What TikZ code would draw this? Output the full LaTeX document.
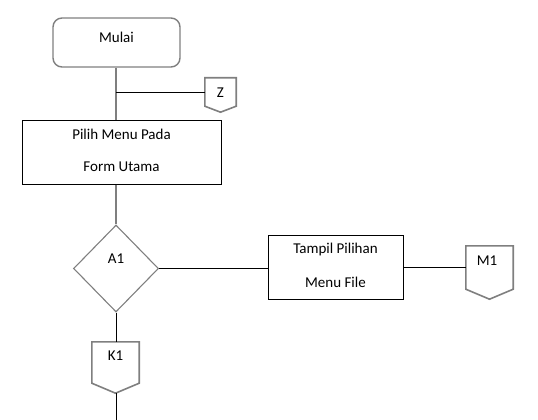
\documentclass[tikz,border=0pt]{standalone}
\usepackage{fontspec}
\setmainfont{Carlito}
\usetikzlibrary{shapes.geometric,calc}
\definecolor{bordergray}{HTML}{7F7F7F}
\begin{document}
\begin{tikzpicture}[x=1pt,y=-1pt,
  every node/.style={font=\fontsize{15}{18}\selectfont, text=black},
  procbox/.style={draw=black, line width=1pt, inner sep=0, rectangle},
  termbox/.style={draw=bordergray, line width=1.4pt, rounded corners=9pt, inner sep=0},
  decbox/.style={diamond, draw=bordergray, line width=1.1pt, inner sep=0},
  offbox/.style={draw=none, inner sep=0},
  offline/.style={draw=bordergray, line width=1.6pt},
  conn/.style={draw=black, line width=1pt},
  grayconn/.style={draw=bordergray, line width=1.4pt},
  lbl/.style={inner sep=0, anchor=center}]
\useasboundingbox (0,0) rectangle (538,420);
% nodes
\node[termbox, minimum width=127pt, minimum height=49pt] (mulai) at (116.5,42.5) {};
\node[lbl] (tmulai) at (116.5,37) {Mulai};
\node[procbox, minimum width=199pt, minimum height=64pt] (pilih) at (121.5,152) {};
\node[lbl] (tpilih1) at (121.5,134) {Pilih Menu Pada};
\node[lbl] (tpilih2) at (121.5,167) {Form Utama};
\node[decbox, minimum width=85pt, minimum height=87pt] (a1) at (116,268.5) {};
\node[lbl] (ta1) at (116,259) {A1};
\node[procbox, minimum width=135pt, minimum height=64pt] (tampil) at (335.5,267) {};
\node[lbl] (ttampil1) at (335.5,249) {Tampil Pilihan};
\node[lbl] (ttampil2) at (335.5,282) {Menu File};
% off-page connectors
\node[offbox, minimum width=31pt, minimum height=34pt] (z) at (220.5,95) {};
\draw[offline] (z.north west) -- (z.north east) -- ($(z.south east)+(0,-6)$) -- (z.south) -- ($(z.south west)+(0,-6)$) -- cycle;
\node[lbl] (tz) at (220.5,93) {Z};
\node[offbox, minimum width=47pt, minimum height=53pt] (m1) at (489.5,272.5) {};
\draw[offline] (m1.north west) -- (m1.north east) -- ($(m1.south east)+(0,-10)$) -- (m1.south) -- ($(m1.south west)+(0,-10)$) -- cycle;
\node[lbl] (tm1) at (487,261) {M1};
\node[offbox, minimum width=47pt, minimum height=51pt] (k1) at (115.5,367.5) {};
\draw[offline] (k1.north west) -- (k1.north east) -- ($(k1.south east)+(0,-10)$) -- (k1.south) -- ($(k1.south west)+(0,-10)$) -- cycle;
\node[lbl] (tk1) at (115.5,356) {K1};
% connectors
\coordinate (branch) at (116,92);
\coordinate (bottom) at (116,420);
\draw[grayconn] (mulai.south -| branch) -- (pilih.north -| branch);
\draw[conn] (branch) -- (z.west |- branch);
\draw[grayconn] (pilih.south -| a1) -- (a1.north);
\draw[conn] (a1.east) -- (tampil.west |- a1.east);
\draw[conn] (tampil.east) -- (m1.west |- tampil.east);
\draw[conn] (a1.south) -- (k1.north -| a1.south);
\draw[conn] (k1.south -| a1.south) -- (bottom);
\end{tikzpicture}
\end{document}
